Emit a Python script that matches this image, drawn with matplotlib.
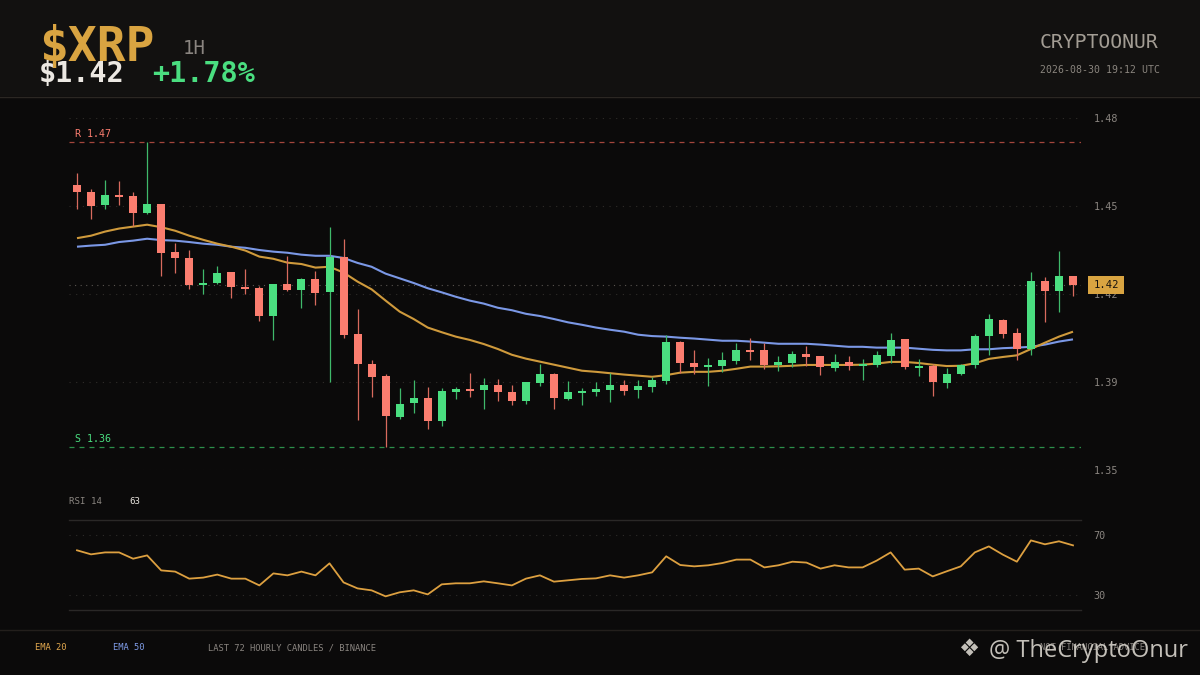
import matplotlib
matplotlib.use("Agg")
import matplotlib.pyplot as plt
from matplotlib.lines import Line2D
from matplotlib.patches import Rectangle
import numpy as np

# ---------------- data ----------------
opens = [1.4576, 1.4551, 1.4505, 1.4540, 1.4536, 1.4476, 1.4507, 1.4333, 1.4311, 1.4213,
         1.4221, 1.4260, 1.4205, 1.4202, 1.4101, 1.4216, 1.4196, 1.4235, 1.4188, 1.4315,
         1.4035, 1.3926, 1.3882, 1.3734, 1.3785, 1.3802, 1.3719, 1.3825, 1.3835, 1.3832,
         1.3849, 1.3824, 1.3792, 1.3857, 1.3889, 1.3799, 1.3821, 1.3825, 1.3832, 1.3849,
         1.3832, 1.3843, 1.3865, 1.4005, 1.3929, 1.3916, 1.3919, 1.3937, 1.3976, 1.3976,
         1.3923, 1.3930, 1.3962, 1.3955, 1.3912, 1.3933, 1.3919, 1.3923, 1.3956, 1.4016,
         1.3912, 1.3918, 1.3857, 1.3890, 1.3923, 1.4028, 1.4085, 1.4038, 1.3981, 1.4227,
         1.4192, 1.4245]
highs = [1.4621, 1.4562, 1.4595, 1.4591, 1.4551, 1.4733, 1.4507, 1.4365, 1.4340, 1.4271,
         1.4282, 1.4260, 1.4271, 1.4209, 1.4216, 1.4318, 1.4238, 1.4264, 1.4424, 1.4380,
         1.4125, 1.3940, 1.3889, 1.3838, 1.3867, 1.3842, 1.3838, 1.3842, 1.3893, 1.3875,
         1.3871, 1.3849, 1.3860, 1.3926, 1.3893, 1.3864, 1.3838, 1.3860, 1.3893, 1.3867,
         1.3867, 1.3878, 1.4031, 1.4009, 1.3976, 1.3947, 1.3969, 1.4002, 1.4020, 1.4002,
         1.3955, 1.3973, 1.3991, 1.3955, 1.3962, 1.3955, 1.3944, 1.3973, 1.4038, 1.4016,
         1.3944, 1.3926, 1.3911, 1.3926, 1.4035, 1.4107, 1.4089, 1.4056, 1.4260, 1.4242,
         1.4336, 1.4245]
lows = [1.4489, 1.4454, 1.4490, 1.4504, 1.4427, 1.4471, 1.4247, 1.4257, 1.4199, 1.4181,
        1.4217, 1.4167, 1.4181, 1.4083, 1.4014, 1.4192, 1.4130, 1.4141, 1.3861, 1.4021,
        1.3723, 1.3807, 1.3625, 1.3727, 1.3748, 1.3690, 1.3701, 1.3799, 1.3807, 1.3763,
        1.3792, 1.3777, 1.3781, 1.3847, 1.3763, 1.3796, 1.3777, 1.3810, 1.3788, 1.3814,
        1.3803, 1.3825, 1.3854, 1.3894, 1.3890, 1.3847, 1.3897, 1.3926, 1.3941, 1.3908,
        1.3901, 1.3916, 1.3919, 1.3887, 1.3901, 1.3905, 1.3868, 1.3916, 1.3930, 1.3908,
        1.3883, 1.3810, 1.3839, 1.3887, 1.3912, 1.3959, 1.4021, 1.3941, 1.3959, 1.4079,
        1.4116, 1.4174]
closes = [1.4552, 1.4501, 1.4540, 1.4533, 1.4476, 1.4507, 1.4330, 1.4312, 1.4214, 1.4220,
          1.4256, 1.4207, 1.4198, 1.4101, 1.4216, 1.4195, 1.4235, 1.4185, 1.4315, 1.4032,
          1.3927, 1.3879, 1.3738, 1.3780, 1.3802, 1.3719, 1.3827, 1.3835, 1.3828, 1.3849,
          1.3825, 1.3792, 1.3860, 1.3889, 1.3803, 1.3824, 1.3827, 1.3835, 1.3849, 1.3828,
          1.3846, 1.3867, 1.4005, 1.3930, 1.3916, 1.3922, 1.3940, 1.3976, 1.3970, 1.3923,
          1.3933, 1.3962, 1.3952, 1.3916, 1.3933, 1.3919, 1.3926, 1.3958, 1.4013, 1.3916,
          1.3919, 1.3861, 1.3889, 1.3922, 1.4027, 1.4089, 1.4036, 1.3981, 1.4227, 1.4192,
          1.4245, 1.4214]
ema20 = [1.4383, 1.4392, 1.4407, 1.4418, 1.4425, 1.4432, 1.4423, 1.4410, 1.4392, 1.4377,
         1.4363, 1.4352, 1.4338, 1.4316, 1.4308, 1.4294, 1.4289, 1.4276, 1.4279, 1.4258,
         1.4225, 1.4197, 1.4156, 1.4116, 1.4089, 1.4058, 1.4041, 1.4025, 1.4013, 1.3998,
         1.3980, 1.3959, 1.3945, 1.3934, 1.3923, 1.3912, 1.3901, 1.3897, 1.3892, 1.3887,
         1.3883, 1.3879, 1.3885, 1.3894, 1.3897, 1.3897, 1.3901, 1.3908, 1.3916, 1.3916,
         1.3917, 1.3919, 1.3922, 1.3922, 1.3922, 1.3922, 1.3923, 1.3927, 1.3933, 1.3933,
         1.3929, 1.3923, 1.3918, 1.3919, 1.3928, 1.3944, 1.3951, 1.3957, 1.3980, 1.4003,
         1.4025, 1.4043]
ema50 = [1.4352, 1.4356, 1.4359, 1.4369, 1.4374, 1.4381, 1.4376, 1.4374, 1.4369, 1.4363,
         1.4359, 1.4352, 1.4348, 1.4340, 1.4334, 1.4330, 1.4323, 1.4319, 1.4319, 1.4311,
         1.4293, 1.4279, 1.4254, 1.4237, 1.4220, 1.4201, 1.4186, 1.4170, 1.4156, 1.4145,
         1.4130, 1.4121, 1.4108, 1.4100, 1.4089, 1.4077, 1.4068, 1.4058, 1.4050, 1.4043,
         1.4032, 1.4027, 1.4025, 1.4021, 1.4018, 1.4014, 1.4010, 1.4010, 1.4007, 1.4003,
         1.3999, 1.3999, 1.3999, 1.3996, 1.3992, 1.3988, 1.3988, 1.3985, 1.3985, 1.3985,
         1.3981, 1.3977, 1.3975, 1.3975, 1.3979, 1.3979, 1.3983, 1.3985, 1.3988, 1.3996,
         1.4007, 1.4015]
rsi = [59.8, 57.1, 58.4, 58.4, 54.2, 56.4, 46.4, 45.6, 40.9, 41.6,
       43.6, 40.9, 40.9, 36.4, 44.4, 43.1, 45.6, 43.1, 51.1, 38.4,
       34.4, 33.1, 29.1, 31.8, 33.1, 30.4, 37.1, 37.8, 37.8, 39.1,
       37.8, 36.4, 40.9, 43.1, 38.9, 39.8, 40.7, 41.1, 43.1, 41.6,
       43.1, 45.1, 55.8, 50.0, 49.1, 49.8, 51.3, 53.6, 53.6, 48.4,
       49.8, 52.2, 51.6, 47.6, 49.8, 48.4, 48.4, 52.9, 58.4, 46.9,
       47.6, 42.4, 45.8, 49.1, 58.4, 62.4, 56.9, 52.2, 66.4, 63.8,
       65.8, 63.1]

price_limits = (1.354, 1.482)
price_tick_labels = ["1.35", "1.39", "1.42", "1.45", "1.48"]
rsi_levels = [30, 70]
rsi_tick_labels = ["30", "70"]

symbol = "$XRP"
timeframe = "1H"
change_label = "+1.78%"
brand = "CRYPTOONUR"
timestamp = "2026-08-30 19:12 UTC"
footer_note = "LAST 72 HOURLY CANDLES / BINANCE"
disclaimer = "NOT FINANCIAL ADVICE"
watermark = "@ TheCryptoOnur"

# ---------------- style ----------------
W, H = 1200, 675
BG = '#0b0a0a'
HEADER_BG = '#121110'
UP = '#4ade80'
DOWN = '#fb7d6f'
UP_WICK = '#3fb96a'
DOWN_WICK = '#d86a5e'
GOLD = '#d9a441'
BLUE = '#7b98e6'
GREY = '#8a8580'

plt.rcParams['font.family'] = ['DejaVu Sans Mono', 'DejaVu Sans']

fig = plt.figure(figsize=(12, 6.75), dpi=100, facecolor=BG)


def fx(px):
    return px / W


def fy(py):
    return 1 - py / H


fig.add_artist(Rectangle((0, fy(96)), 1, 96 / H, transform=fig.transFigure,
                         fc=HEADER_BG, ec='none', zorder=0))
fig.add_artist(Line2D([0, 1], [fy(96.5)] * 2, transform=fig.transFigure,
                      color='#2b2723', lw=1.0))
fig.add_artist(Line2D([0, 1], [fy(629.5)] * 2, transform=fig.transFigure,
                      color='#231f1c', lw=1.0))

o = np.array(opens)
h = np.array(highs)
l = np.array(lows)
c = np.array(closes)
n = len(c)
x = np.arange(n)
up = c >= o
last = c[-1]
res = h.max()
sup = l.min()

# ---------------- main price axes ----------------
ax = fig.add_axes([fx(69), fy(470), 1012 / W, 352 / H])
ax.set_facecolor('none')
ax.set_xlim(-0.57, n - 1 + 0.57)
ax.set_ylim(*price_limits)
for s in ax.spines.values():
    s.set_visible(False)
ticks = np.linspace(price_limits[0], price_limits[1], 5)
ax.set_xticks([])
ax.yaxis.tick_right()
ax.set_yticks(ticks)
ax.set_yticklabels(price_tick_labels)
ax.tick_params(axis='y', length=0, pad=9.4, labelsize=7.3, labelcolor=GREY)

for t in ticks:
    ax.axhline(t, color='#302d2a', lw=0.8, ls=(0, (1, 5)), zorder=1)

ax.axhline(res, color='#a3463c', lw=0.9, ls=(0, (4, 4)), zorder=1)
ax.axhline(sup, color='#2b8f4a', lw=0.9, ls=(0, (4, 4)), zorder=1)
ax.annotate(f"R {res:.2f}", xy=(0.006, res), xycoords=('axes fraction', 'data'),
            xytext=(0, 5.8), textcoords='offset points', va='center', ha='left',
            fontsize=7.2, color=DOWN)
ax.annotate(f"S {sup:.2f}", xy=(0.006, sup), xycoords=('axes fraction', 'data'),
            xytext=(0, 5.8), textcoords='offset points', va='center', ha='left',
            fontsize=7.2, color=UP)

ax.axhline(last, color='#5a5550', lw=0.8, ls=(0, (1, 4)), zorder=1)

ax.plot(x, ema50, color=BLUE, lw=1.5, zorder=2, solid_capstyle='butt')
ax.plot(x, ema20, color='#cf9a3c', lw=1.5, zorder=2, solid_capstyle='butt')

ax.vlines(x, l, h, colors=np.where(up, UP_WICK, DOWN_WICK), lw=0.9, zorder=3)
ax.bar(x, np.maximum(np.abs(c - o), 0.0005), bottom=np.minimum(o, c), width=0.57,
       color=np.where(up, UP, DOWN), edgecolor='none', zorder=4)

# last price tag
box_h = 18 / 352 * (price_limits[1] - price_limits[0])
ax.add_patch(Rectangle(((1088 - 69) / 1012, last - box_h / 2), 36 / 1012, box_h,
                       transform=ax.get_yaxis_transform(), fc=GOLD, ec='none',
                       clip_on=False, zorder=10))
ax.text((1106 - 69) / 1012, last, f"{last:.2f}", transform=ax.get_yaxis_transform(),
        ha='center', va='center', fontsize=7.6, color='#15120e', clip_on=False,
        zorder=11)

# ---------------- RSI axes ----------------
ax2 = fig.add_axes([fx(69), fy(610), 1012 / W, 90 / H])
ax2.set_facecolor('none')
ax2.set_xlim(-0.57, n - 1 + 0.57)
ax2.set_ylim(20, 80)
for side in ('left', 'right'):
    ax2.spines[side].set_visible(False)
for side in ('top', 'bottom'):
    ax2.spines[side].set_color('#2a2827')
    ax2.spines[side].set_linewidth(1.0)
ax2.set_xticks([])
ax2.yaxis.tick_right()
ax2.set_yticks(rsi_levels)
ax2.set_yticklabels(rsi_tick_labels)
ax2.tick_params(axis='y', length=0, pad=8.6, labelsize=7.3, labelcolor=GREY)
for lv in rsi_levels:
    ax2.axhline(lv, color='#2e2c2a', lw=0.8, ls=(0, (1, 5)))
ax2.plot(x, rsi, color='#dda040', lw=1.3)

fig.text(fx(69), fy(501), "RSI 14", fontsize=6.6, color=GREY, va='center')
fig.text(fx(129), fy(501), f"{rsi[-1]:.0f}", fontsize=6.6, color='#e8e4de', va='center')

# ---------------- header ----------------
fig.text(fx(39), fy(61), symbol, fontsize=34.5, fontweight='bold', color=GOLD,
         va='baseline')
fig.text(fx(183), fy(54), timeframe, fontsize=13.7, color=GREY, va='baseline')
fig.text(fx(39), fy(82), f"${last:.2f}", fontsize=20.5, fontweight='bold',
         color='#ece8e2', va='baseline')
fig.text(fx(152), fy(82), change_label, fontsize=20.5, fontweight='bold',
         color=UP, va='baseline')
fig.text(fx(1040), fy(48), brand, fontsize=14.2, color='#a39d94', va='baseline')
fig.text(fx(1040), fy(73), timestamp, fontsize=7.1, color='#8a857e', va='baseline')

# ---------------- footer ----------------
fig.text(fx(35), fy(648), "EMA 20", fontsize=6.3, color='#e2a84e', va='center')
fig.text(fx(113), fy(648), "EMA 50", fontsize=6.3, color='#7f9ce8', va='center')
fig.text(fx(208), fy(648), footer_note, fontsize=6.3, color=GREY, va='center')
fig.text(fx(1040), fy(648), disclaimer, fontsize=6.3, color=GREY, va='center')

fig.text(fx(969), fy(649), "\u2756", fontsize=17, color='#d8d4cc', alpha=0.9,
         ha='center', va='center', family='DejaVu Sans')
fig.text(fx(989), fy(657), watermark, fontsize=17, color='#d8d4cc', alpha=0.9,
         va='baseline', family='Open Sans')

fig.savefig("out.png", dpi=100, facecolor=BG)
